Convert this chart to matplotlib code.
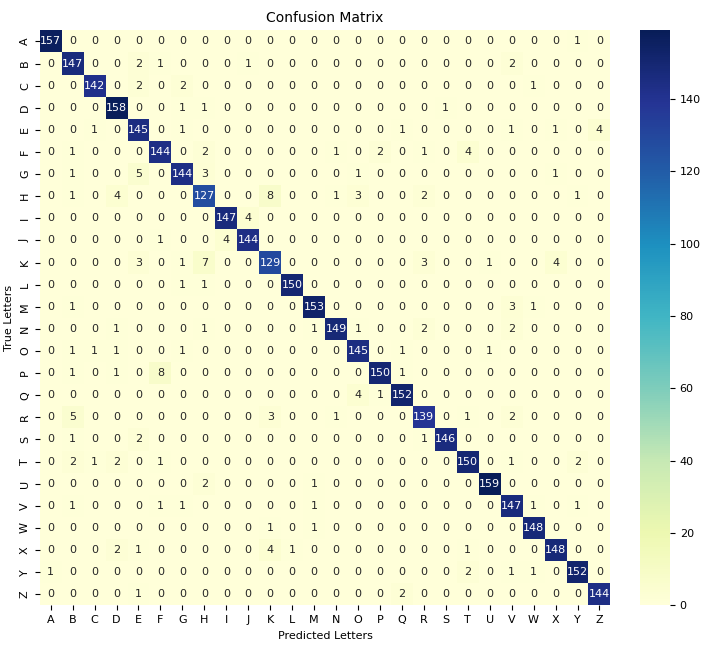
import numpy as np
import matplotlib
matplotlib.use("Agg")
import matplotlib.pyplot as plt
import seaborn as sns

letters = list("ABCDEFGHIJKLMNOPQRSTUVWXYZ")
rows = [
    "157 0 0 0 0 0 0 0 0 0 0 0 0 0 0 0 0 0 0 0 0 0 0 0 1 0",
    "0 147 0 0 2 1 0 0 0 1 0 0 0 0 0 0 0 0 0 0 0 2 0 0 0 0",
    "0 0 142 0 2 0 2 0 0 0 0 0 0 0 0 0 0 0 0 0 0 0 1 0 0 0",
    "0 0 0 158 0 0 1 1 0 0 0 0 0 0 0 0 0 0 1 0 0 0 0 0 0 0",
    "0 0 1 0 145 0 1 0 0 0 0 0 0 0 0 0 1 0 0 0 0 1 0 1 0 4",
    "0 1 0 0 0 144 0 2 0 0 0 0 0 1 0 2 0 1 0 4 0 0 0 0 0 0",
    "0 1 0 0 5 0 144 3 0 0 0 0 0 0 1 0 0 0 0 0 0 0 0 1 0 0",
    "0 1 0 4 0 0 0 127 0 0 8 0 0 1 3 0 0 2 0 0 0 0 0 0 1 0",
    "0 0 0 0 0 0 0 0 147 4 0 0 0 0 0 0 0 0 0 0 0 0 0 0 0 0",
    "0 0 0 0 0 1 0 0 4 144 0 0 0 0 0 0 0 0 0 0 0 0 0 0 0 0",
    "0 0 0 0 3 0 1 7 0 0 129 0 0 0 0 0 0 3 0 0 1 0 0 4 0 0",
    "0 0 0 0 0 0 1 1 0 0 0 150 0 0 0 0 0 0 0 0 0 0 0 0 0 0",
    "0 1 0 0 0 0 0 0 0 0 0 0 153 0 0 0 0 0 0 0 0 3 1 0 0 0",
    "0 0 0 1 0 0 0 1 0 0 0 0 1 149 1 0 0 2 0 0 0 2 0 0 0 0",
    "0 1 1 1 0 0 1 0 0 0 0 0 0 0 145 0 1 0 0 0 1 0 0 0 0 0",
    "0 1 0 1 0 8 0 0 0 0 0 0 0 0 0 150 1 0 0 0 0 0 0 0 0 0",
    "0 0 0 0 0 0 0 0 0 0 0 0 0 0 4 1 152 0 0 0 0 0 0 0 0 0",
    "0 5 0 0 0 0 0 0 0 0 3 0 0 1 0 0 0 139 0 1 0 2 0 0 0 0",
    "0 1 0 0 2 0 0 0 0 0 0 0 0 0 0 0 0 1 146 0 0 0 0 0 0 0",
    "0 2 1 2 0 1 0 0 0 0 0 0 0 0 0 0 0 0 0 150 0 1 0 0 2 0",
    "0 0 0 0 0 0 0 2 0 0 0 0 1 0 0 0 0 0 0 0 159 0 0 0 0 0",
    "0 1 0 0 0 1 1 0 0 0 0 0 1 0 0 0 0 0 0 0 0 147 1 0 1 0",
    "0 0 0 0 0 0 0 0 0 0 1 0 1 0 0 0 0 0 0 0 0 0 148 0 0 0",
    "0 0 0 2 1 0 0 0 0 0 4 1 0 0 0 0 0 0 0 1 0 0 0 148 0 0",
    "1 0 0 0 0 0 0 0 0 0 0 0 0 0 0 0 0 0 0 2 0 1 1 0 152 0",
    "0 0 0 0 1 0 0 0 0 0 0 0 0 0 0 0 2 0 0 0 0 0 0 0 0 144",
]
cm = np.array([[int(v) for v in r.split()] for r in rows])

fig = plt.figure(figsize=(7.09, 6.46), dpi=100)
ax = fig.add_axes([0.056, 0.063, 0.805, 0.89])
cax = fig.add_axes([0.903, 0.063, 0.042, 0.89])
sns.heatmap(cm, annot=True, fmt="d", cmap="YlGnBu", xticklabels=letters,
            yticklabels=letters, ax=ax, cbar_ax=cax, annot_kws={"size": 8})
ax.set_title("Confusion Matrix", fontsize=10)
ax.set_xlabel("Predicted Letters", fontsize=8)
ax.set_ylabel("True Letters", fontsize=8)
ax.tick_params(labelsize=8)
cax.tick_params(labelsize=8)
fig.savefig("out.png")
